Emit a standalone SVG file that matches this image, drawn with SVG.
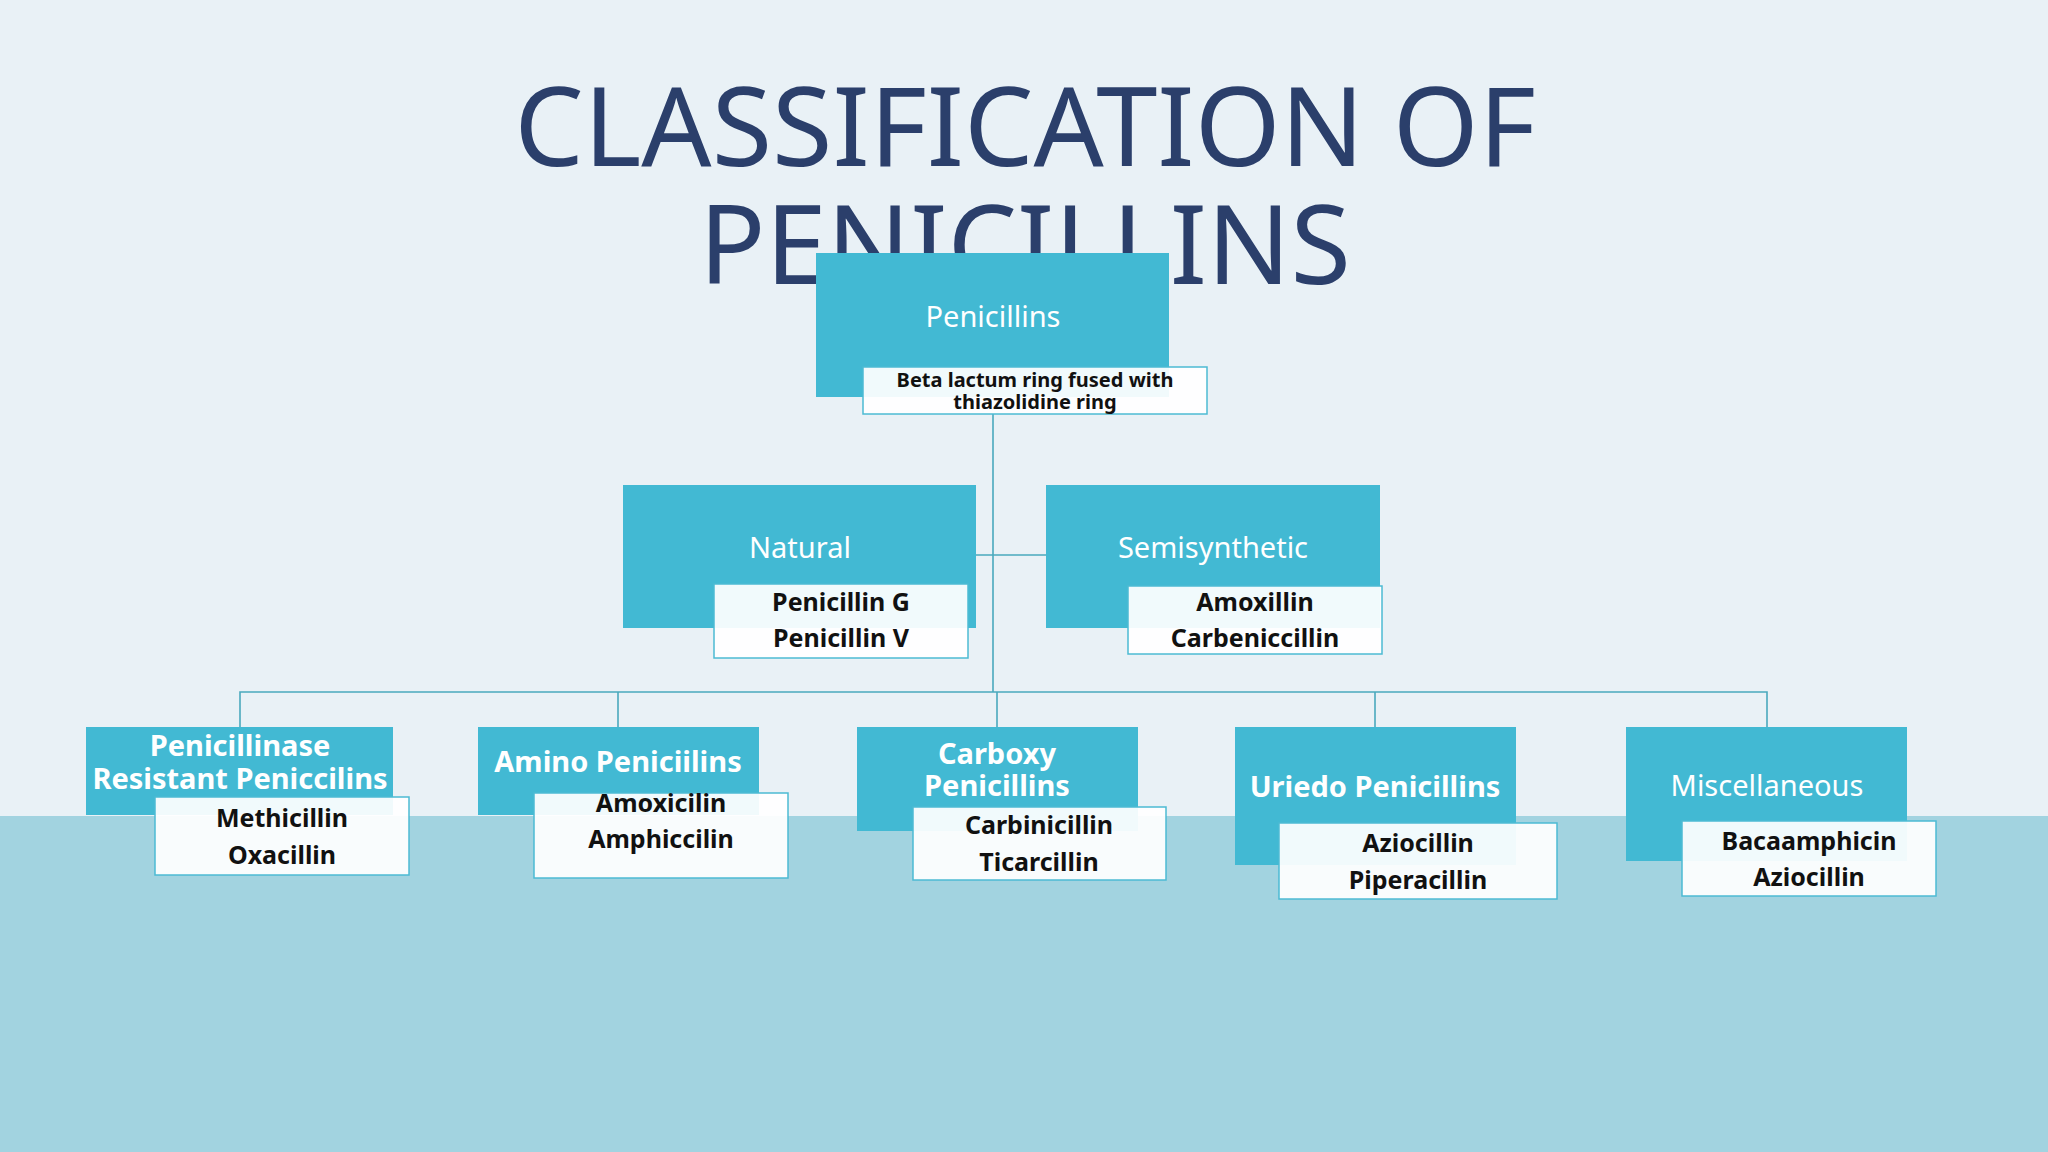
<svg xmlns="http://www.w3.org/2000/svg" width="2048" height="1152" viewBox="0 0 2048 1152">
<style>
.box{fill:#42b9d3}
.sub{fill:#ffffff;fill-opacity:0.93;stroke:#4cbbd3;stroke-width:1.5}
.t{font-family:"Noto Sans","Open Sans",sans-serif;fill:#fff;text-anchor:middle;dominant-baseline:central}
.tb{font-family:"Noto Sans","Open Sans",sans-serif;fill:#fff;text-anchor:middle;dominant-baseline:central;font-weight:bold;font-size:29px}
.s{font-family:"Noto Sans","Open Sans",sans-serif;fill:#111;text-anchor:middle;dominant-baseline:central;font-weight:bold;font-size:25px}
.ss{font-size:20px}
.c{stroke:#4aa9bd;stroke-width:1.6;fill:none}
</style>
<rect width="2048" height="1152" fill="#e9f1f6"/>
<rect y="816" width="2048" height="336" fill="#a2d3e0"/>
<g font-family="'Noto Sans','Open Sans',sans-serif" font-size="110" fill="#2b3f6b" text-anchor="middle">
<text x="1025" y="166">CLASSIFICATION OF</text>
<text x="1025" y="284">PENICILLINS</text>
</g>
<g id="connectors" class="c">
<path d="M993 414V692M976 555H1046M240 727V692H1767V727M618 692V727M997 692V727M1375 692V727"/>
</g>
<g id="penicillins"><rect class="box" x="816" y="253" width="353" height="144"/><text class="t" x="993" y="315" font-size="29">Penicillins</text>
<rect class="sub" x="863" y="367" width="344" height="47"/><text class="s ss" x="1035" y="379">Beta lactum ring fused with</text><text class="s ss" x="1035" y="401">thiazolidine ring</text></g>
<g id="natural"><rect class="box" x="623" y="485" width="353" height="143"/><text class="t" x="800" y="546" font-size="29">Natural</text>
<rect class="sub" x="714" y="584" width="254" height="74"/><text class="s" x="841" y="601">Penicillin G</text><text class="s" x="841" y="637">Penicillin V</text></g>
<g id="semisynthetic"><rect class="box" x="1046" y="485" width="334" height="143"/><text class="t" x="1213" y="546" font-size="29">Semisynthetic</text>
<rect class="sub" x="1128" y="586" width="254" height="68"/><text class="s" x="1255" y="601">Amoxillin</text><text class="s" x="1255" y="637">Carbeniccillin</text></g>
<g id="prp"><rect class="box" x="86" y="727" width="307" height="88"/><text class="tb" x="240" y="744">Penicillinase</text><text class="tb" x="240" y="777">Resistant Peniccilins</text>
<rect class="sub" x="155" y="797" width="254" height="78"/><text class="s" x="282" y="817">Methicillin</text><text class="s" x="282" y="854">Oxacillin</text></g>
<g id="amino"><rect class="box" x="478" y="727" width="281" height="88"/><text class="tb" x="618" y="760">Amino Peniciilins</text>
<rect class="sub" x="534" y="793" width="254" height="85"/><text class="s" x="661" y="802">Amoxicilin</text><text class="s" x="661" y="838">Amphiccilin</text></g>
<g id="carboxy"><rect class="box" x="857" y="727" width="281" height="104"/><text class="tb" x="997" y="752">Carboxy</text><text class="tb" x="997" y="784">Penicillins</text>
<rect class="sub" x="913" y="807" width="253" height="73"/><text class="s" x="1039" y="824">Carbinicillin</text><text class="s" x="1039" y="861">Ticarcillin</text></g>
<g id="uriedo"><rect class="box" x="1235" y="727" width="281" height="138"/><text class="tb" x="1375" y="785">Uriedo Penicillins</text>
<rect class="sub" x="1279" y="823" width="278" height="76"/><text class="s" x="1418" y="842">Aziocillin</text><text class="s" x="1418" y="879">Piperacillin</text></g>
<g id="misc"><rect class="box" x="1626" y="727" width="281" height="134"/><text class="t" x="1767" y="784" font-size="29">Miscellaneous</text>
<rect class="sub" x="1682" y="821" width="254" height="75"/><text class="s" x="1809" y="840">Bacaamphicin</text><text class="s" x="1809" y="876">Aziocillin</text></g>
</svg>
